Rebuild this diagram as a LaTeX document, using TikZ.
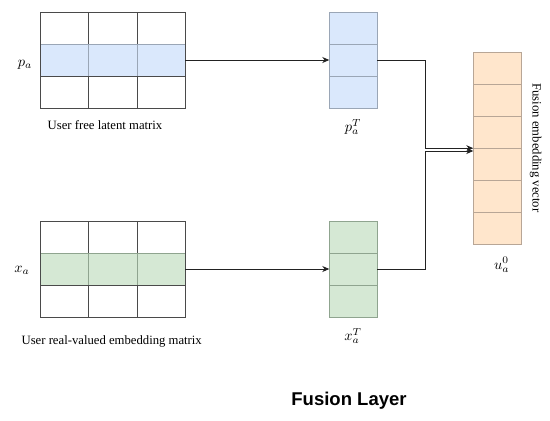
\documentclass[tikz,border=0pt]{standalone}
\usepackage{graphicx}
\usepackage{fontspec}
\setmainfont{Liberation Serif}
\newfontfamily\labelsans{Liberation Sans}
\usetikzlibrary{arrows.meta}
\definecolor{bluefill}{HTML}{DAE8FC}
\definecolor{bluestroke}{HTML}{9AA6B6}
\definecolor{greenfill}{HTML}{D5E8D4}
\definecolor{greenstroke}{HTML}{8FA48F}
\definecolor{orangefill}{HTML}{FFE6CC}
\definecolor{orangestroke}{HTML}{B8A696}
\definecolor{cellstroke}{HTML}{4A4A4A}
\definecolor{linecol}{HTML}{222222}
\newcommand{\bigmath}[1]{\scalebox{1.45}{$#1$}}
\tikzset{
  cellbox/.style={draw=cellstroke, line width=0.9pt, minimum width=48.2pt, minimum height=32pt, inner sep=0pt, outer sep=0pt, anchor=north west},
  bluecell/.style={cellbox, fill=bluefill, draw=bluestroke},
  greencell/.style={cellbox, fill=greenfill, draw=greenstroke},
  orangecell/.style={cellbox, fill=orangefill, draw=orangestroke},
  vecbox/.style={draw, line width=0.9pt, minimum width=48pt, minimum height=32pt, inner sep=0pt, outer sep=0pt, anchor=north west},
  conn/.style={draw=linecol, line width=0.8pt, -{Stealth[length=7pt,width=6pt]}},
  captext/.style={font=\fontsize{12.7}{14}\selectfont, inner sep=0pt},
  mathlabel/.style={inner sep=0pt}
}
\begin{document}
\begin{tikzpicture}[x=1pt,y=-1pt]
\useasboundingbox (0,0) rectangle (550,421);
% top matrix
\foreach \c in {0,1,2}{
  \node[cellbox] (ta\c) at ({40.7+48.2*\c},12) {};
  \node[bluecell] (tb\c) at ({40.7+48.2*\c},44) {};
  \node[cellbox] (tc\c) at ({40.7+48.2*\c},76) {};
}
\draw[cellstroke, line width=0.9pt] (40.7,12) rectangle (185.3,108);
% bottom matrix
\foreach \c in {0,1,2}{
  \node[cellbox] (ba\c) at ({40.7+48.2*\c},221) {};
  \node[greencell] (bb\c) at ({40.7+48.2*\c},253) {};
  \node[cellbox] (bc\c) at ({40.7+48.2*\c},285) {};
}
\draw[cellstroke, line width=0.9pt] (40.7,221) rectangle (185.3,317);
% p^T vector
\foreach \r in {0,1,2}{
  \node[vecbox, fill=bluefill, draw=bluestroke] (pt\r) at (329.3,{12+32*\r}) {};
}
% x^T vector
\foreach \r in {0,1,2}{
  \node[vecbox, fill=greenfill, draw=greenstroke] (xt\r) at (329.3,{221+32*\r}) {};
}
% fusion vector
\foreach \r in {0,...,5}{
  \node[vecbox, minimum width=48.4pt, fill=orangefill, draw=orangestroke] (fu\r) at (473.3,{52.3+32*\r}) {};
}
% labels
\node[mathlabel] (pa) at (25,65) {\bigmath{p_a}};
\node[mathlabel] (xa) at (22,270) {\bigmath{x_a}};
\node[captext] (cap1) at (105,125.5) {User free latent matrix};
\node[captext] (cap2) at (111.7,341.5) {User real-valued embedding matrix};
\node[mathlabel] (paT) at (353,127) {\bigmath{p_a^T}};
\node[mathlabel] (xaT) at (353,336) {\bigmath{x_a^T}};
\node[mathlabel] (ua0) at (501.7,265) {\bigmath{u_a^0}};
\node[captext, rotate=-90] (fev) at (535.7,148) {Fusion embedding vector};
\node[font=\labelsans\bfseries\fontsize{18.5}{20}\selectfont, inner sep=0pt] (title) at (349,401) {Fusion Layer};
% connectors
\coordinate (j1) at (425,148.2);
\coordinate (j2) at (425,151);
\draw[conn] (tb2.east) -- (pt1.west);
\draw[conn] (bb2.east) -- (xt1.west);
\draw[conn] (pt1.east) -| (j1) -- (j1 -| fu3.west);
\draw[conn] (xt1.east) -| (j2) -- (j2 -| fu3.west);
\end{tikzpicture}
\end{document}
